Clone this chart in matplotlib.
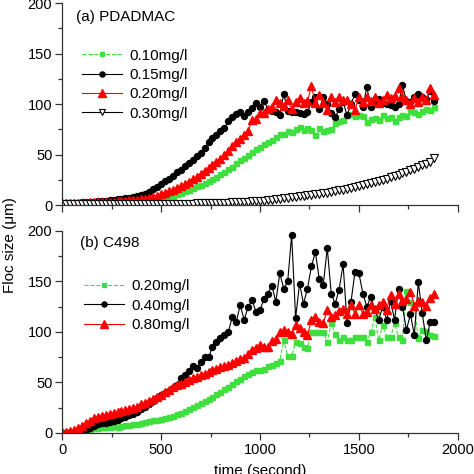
import numpy as np
import matplotlib
matplotlib.use('Agg')
import matplotlib.pyplot as plt

plt.rcParams['font.family'] = ['Liberation Sans', 'DejaVu Sans']

# sampling times (s)
time_s = [0, 20, 40, 60, 80, 100, 120, 140, 160, 180,
          200, 220, 240, 260, 280, 300, 320, 340, 360, 380,
          400, 420, 440, 460, 480, 500, 520, 540, 560, 580,
          600, 620, 640, 660, 680, 700, 720, 740, 760, 780,
          800, 820, 840, 860, 880, 900, 920, 940, 960, 980,
          1000, 1020, 1040, 1060, 1080, 1100, 1120, 1140, 1160, 1180,
          1200, 1220, 1240, 1260, 1280, 1300, 1320, 1340, 1360, 1380,
          1400, 1420, 1440, 1460, 1480, 1500, 1520, 1540, 1560, 1580,
          1600, 1620, 1640, 1660, 1680, 1700, 1720, 1740, 1760, 1780,
          1800, 1820, 1840, 1860, 1880]

# (a) PDADMAC
pd_010 = [1.5, 1.5, 1.6, 1.7, 1.8, 1.9, 2.0, 2.1, 2.2, 2.3,
          2.4, 2.5, 2.6, 2.7, 2.8, 2.9, 3.0, 3.1, 3.3, 3.5,
          3.6, 4.0, 4.4, 5.0, 5.6, 6.3, 7.2, 8.2, 9.4, 10.6,
          12.0, 13.4, 15.0, 16.7, 18.4, 20.2, 22.0, 24.0, 26.0, 28.2,
          30.4, 32.8, 35.2, 38.0, 42.0, 44.5, 47.0, 50.0, 52.5, 55.0,
          57.5, 60.0, 62.0, 64.5, 67.5, 70.0, 70.5, 73.0, 72.5, 75.0,
          77.0, 74.5, 76.5, 74.0, 69.0, 76.0, 73.5, 74.5, 75.0, 81.0,
          83.0, 84.0, 89.5, 90.0, 88.0, 89.0, 88.5, 82.0, 85.0, 86.5,
          84.0, 89.0, 86.0, 87.5, 83.5, 87.0, 89.0, 88.0, 93.5, 92.0,
          90.0, 93.5, 95.0, 94.0, 97.0]
pd_015 = [1.5, 1.7, 1.9, 2.1, 2.3, 2.5, 2.8, 3.0, 3.3, 3.6,
          3.9, 4.2, 4.6, 5.0, 5.5, 6.0, 6.6, 7.3, 8.0, 8.8,
          10.0, 11.0, 13.0, 15.5, 18.0, 21.0, 23.5, 26.0, 29.0, 32.5,
          35.0, 39.0, 42.0, 45.0, 48.5, 52.0, 56.0, 62.0, 66.5, 69.0,
          73.0, 76.0, 83.0, 87.0, 90.0, 92.5, 88.5, 92.0, 96.0, 101.0,
          97.0, 103.5, 94.5, 93.5, 92.0, 88.8, 110.0, 93.5, 92.0, 92.0,
          91.0, 90.5, 92.0, 102.0, 107.0, 95.0, 107.0, 100.5, 91.0, 87.0,
          95.0, 102.0, 89.0, 100.0, 110.0, 104.0, 97.0, 117.0, 97.0, 102.0,
          105.0, 101.0, 100.0, 99.0, 97.0, 100.0, 118.5, 103.0, 102.0, 107.0,
          110.0, 107.0, 105.0, 113.0, 103.0]
pd_020 = [1.8, 1.9, 2.0, 2.1, 2.2, 2.3, 2.4, 2.5, 2.6, 2.7,
          2.8, 3.0, 3.2, 3.4, 3.6, 3.9, 4.2, 4.5, 4.9, 5.3,
          5.8, 6.4, 7.1, 8.0, 9.0, 10.5, 12.0, 13.5, 15.0, 17.0,
          18.5, 20.5, 23.0, 25.5, 28.0, 31.0, 34.0, 37.0, 39.5, 42.5,
          46.0, 49.5, 53.5, 58.0, 62.5, 65.5, 69.5, 73.5, 84.0, 85.0,
          91.5, 91.0, 95.0, 97.0, 103.7, 100.7, 98.0, 103.7, 95.0, 102.0,
          105.6, 100.7, 103.0, 117.5, 100.7, 109.0, 100.7, 94.0, 107.0, 102.0,
          107.0, 103.7, 104.0, 100.0, 94.0, 107.0, 102.0, 107.0, 103.0, 107.0,
          100.7, 103.7, 109.0, 105.6, 108.0, 116.0, 107.0, 103.7, 100.0, 105.6,
          102.0, 107.0, 104.0, 116.0, 109.0]
pd_030 = [1.0, 1.0, 1.0, 1.0, 1.0, 1.0, 1.0, 1.0, 1.0, 1.0,
          1.0, 1.0, 1.0, 1.0, 1.0, 1.0, 1.0, 1.0, 1.0, 1.0,
          1.0, 1.0, 1.0, 1.0, 1.0, 1.1, 1.1, 1.1, 1.2, 1.2,
          1.2, 1.3, 1.3, 1.4, 1.5, 1.5, 1.6, 1.7, 1.8, 1.9,
          2.0, 2.2, 2.4, 2.6, 2.8, 3.0, 3.2, 3.4, 3.6, 3.8,
          4.0, 4.4, 4.8, 5.2, 5.6, 6.0, 6.5, 7.0, 7.5, 8.0,
          8.5, 9.0, 9.5, 10.0, 10.5, 11.0, 11.6, 12.3, 13.0, 13.7,
          14.4, 15.2, 16.0, 16.8, 17.6, 18.5, 19.4, 20.4, 21.4, 22.5,
          23.6, 24.8, 26.0, 27.3, 28.6, 30.0, 31.5, 33.0, 34.5, 36.0,
          37.6, 39.3, 41.0, 43.0, 46.5]

# (b) C498
c_020 = [0.5, 0.5, 0.6, 0.8, 1.0, 1.5, 2.5, 3.5, 4.8, 5.0,
         5.5, 5.8, 6.2, 6.5, 6.3, 7.0, 7.5, 8.0, 8.8, 9.3,
         10.0, 10.8, 11.5, 12.5, 13.2, 14.0, 15.0, 16.0, 17.0, 18.5,
         20.0, 21.5, 23.5, 25.5, 27.5, 29.5, 32.0, 34.0, 36.0, 38.5,
         41.0, 43.5, 46.0, 48.5, 51.0, 53.5, 56.0, 58.0, 60.5, 62.0,
         62.5, 63.5, 66.0, 67.0, 69.0, 71.5, 92.0, 76.0, 76.0, 90.0,
         89.5, 85.5, 84.0, 100.0, 100.0, 100.0, 100.0, 90.0, 108.5, 98.5,
         92.0, 95.0, 92.0, 92.0, 95.0, 95.0, 95.0, 90.0, 100.0, 115.0,
         92.0, 107.0, 95.0, 95.0, 108.5, 95.0, 92.0, 141.0, 130.0, 125.0,
         94.0, 102.0, 101.0, 97.0, 96.0]
c_040 = [0.0, 0.0, 0.0, 0.0, 0.5, 1.5, 3.0, 5.0, 7.0, 8.5,
         9.5, 10.0, 11.0, 12.0, 13.0, 14.5, 16.0, 17.5, 19.0, 21.0,
         23.5, 26.0, 29.0, 32.0, 35.0, 38.0, 40.0, 42.0, 44.5, 48.0,
         54.0, 57.0, 61.0, 66.0, 64.0, 70.0, 75.5, 75.0, 85.0, 90.0,
         94.0, 97.0, 100.0, 115.0, 110.0, 126.5, 112.0, 125.0, 131.5, 120.0,
         121.5, 133.0, 138.0, 146.0, 130.0, 158.0, 143.0, 150.0, 196.0, 114.0,
         148.0, 128.0, 143.0, 165.0, 179.0, 152.0, 147.0, 183.0, 138.0, 128.0,
         142.0, 167.0, 108.6, 130.0, 159.5, 158.0, 138.0, 125.0, 135.0, 122.0,
         112.0, 125.0, 112.0, 130.6, 112.0, 142.5, 125.0, 102.0, 117.5, 97.0,
         149.0, 118.5, 92.0, 109.6, 110.0]
c_080 = [0.5, 1.0, 2.0, 3.0, 5.0, 7.0, 10.0, 12.0, 14.5, 15.5,
         17.0, 18.0, 19.0, 20.0, 21.0, 22.0, 23.0, 24.0, 25.0, 26.0,
         28.5, 30.0, 32.0, 34.0, 36.0, 38.0, 40.5, 43.0, 45.5, 47.5,
         49.0, 50.5, 52.0, 54.0, 55.5, 57.0, 58.5, 60.0, 62.0, 63.5,
         65.0, 66.0, 67.5, 69.0, 71.0, 73.0, 74.0, 78.0, 82.0, 84.0,
         87.0, 85.0, 85.5, 91.0, 93.0, 100.0, 102.0, 100.0, 98.5, 107.0,
         103.6, 100.0, 97.0, 112.0, 115.0, 110.0, 108.6, 121.7, 115.0, 117.0,
         121.0, 123.0, 118.0, 126.6, 118.0, 126.6, 118.0, 120.0, 127.0, 123.0,
         127.0, 130.0, 122.0, 137.0, 128.0, 138.0, 131.0, 133.0, 140.0, 126.0,
         131.0, 130.0, 126.0, 134.0, 138.0]

green = '#3ee03e'

fig = plt.figure(figsize=(4.74, 4.74), dpi=100)
ax1 = fig.add_axes([0.131, 0.5675, 0.835, 0.426])
ax2 = fig.add_axes([0.131, 0.0865, 0.835, 0.4262])

ax1.plot(time_s, pd_010, color=green, ls='--', lw=0.8, marker='s', ms=3.6,
         mec=green, mfc=green, label='0.10mg/l')
ax1.plot(time_s, pd_015, color='black', lw=0.8, marker='o', ms=4.3,
         label='0.15mg/l')
ax1.plot(time_s, pd_020, color='red', lw=0.8, marker='^', ms=6,
         label='0.20mg/l')
ax1.plot(time_s, pd_030, color='black', lw=0.8, marker='v', ms=5.2,
         mfc='white', mec='black', mew=0.8, label='0.30mg/l')

ax2.plot(time_s, c_020, color=green, ls='--', lw=0.8, marker='s', ms=3.6,
         mec=green, mfc=green, label='0.20mg/l')
ax2.plot(time_s, c_040, color='black', lw=0.8, marker='o', ms=4.3,
         label='0.40mg/l')
ax2.plot(time_s, c_080, color='red', lw=0.8, marker='^', ms=6,
         label='0.80mg/l')

for ax in (ax1, ax2):
    ax.set_xlim(0, 2000)
    ax.set_ylim(0, 200)
    ax.set_xticks([0, 500, 1000, 1500, 2000])
    ax.set_xticks([250, 750, 1250, 1750], minor=True)
    ax.set_yticks([0, 50, 100, 150, 200])
    ax.set_yticks([25, 75, 125, 175], minor=True)
    ax.spines['top'].set_visible(False)
    ax.spines['right'].set_visible(False)
    for s in ('left', 'bottom'):
        ax.spines[s].set_color('#333333')
        ax.spines[s].set_linewidth(0.9)
    ax.tick_params(which='major', direction='out', length=5, width=0.9,
                   color='#333333', labelsize=10.5, pad=2)
    ax.tick_params(which='minor', direction='out', length=3, width=0.9,
                   color='#333333')
    leg = ax.legend(loc='upper left', frameon=False, fontsize=11, numpoints=1,
                    handlelength=2.6, handletextpad=0.5, labelspacing=0.35,
                    borderaxespad=0, borderpad=0,
                    bbox_to_anchor=(0.05, 0.775) if ax is ax1 else (0.055, 0.76))
    for h in leg.legend_handles:
        h.set_markersize(h.get_markersize() * 0.85)

ax1.tick_params(labelbottom=False)
ax1.text(0.035, 0.93, '(a) PDADMAC', transform=ax1.transAxes, fontsize=11,
         ha='left', va='center')
ax2.text(0.045, 0.94, '(b) C498', transform=ax2.transAxes, fontsize=11,
         ha='left', va='center')

fig.text(0.021, 0.483, 'Floc size (\u03bcm)', rotation=90, ha='center',
         va='center', fontsize=11)
fig.text(0.548, 0.021, 'time (second)', ha='center', va='top', fontsize=11)

plt.savefig('out.png', dpi=100)
